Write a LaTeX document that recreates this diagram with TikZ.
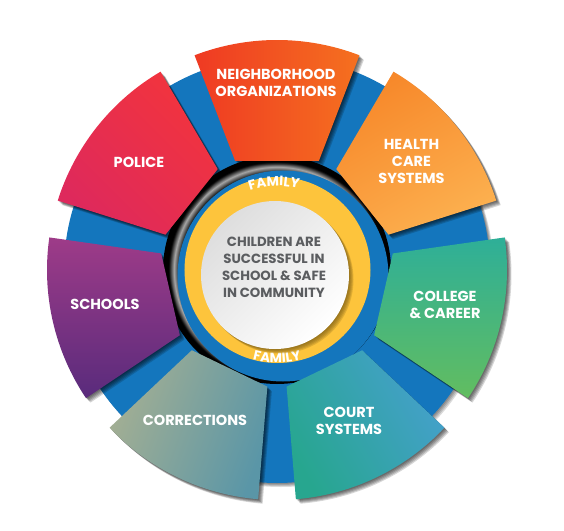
\documentclass[tikz,border=0pt]{standalone}
\usepackage{fontspec}
\setmainfont{Poppins}
\usetikzlibrary{decorations.text}

\definecolor{ringblue}{HTML}{1476BD}
\definecolor{famyellow}{HTML}{FDC43C}
\definecolor{hubgray}{HTML}{5B5D60}
\definecolor{hubshadow}{HTML}{7A5C14}
\definecolor{neighA}{HTML}{EF3A23}
\definecolor{neighB}{HTML}{F5701F}
\definecolor{healthA}{HTML}{F7882A}
\definecolor{healthB}{HTML}{FCB04F}
\definecolor{collegeA}{HTML}{2EAF98}
\definecolor{collegeB}{HTML}{62BD60}
\definecolor{courtA}{HTML}{27A68F}
\definecolor{courtB}{HTML}{45A0CC}
\definecolor{corrA}{HTML}{A4AF93}
\definecolor{corrB}{HTML}{5A96A7}
\definecolor{schoolsA}{HTML}{9E3B88}
\definecolor{schoolsB}{HTML}{592B7C}
\definecolor{policeA}{HTML}{F2343D}
\definecolor{policeB}{HTML}{DE295C}

% dark bevel round the hub (25bp = edge of the filled circle)
\pgfdeclareradialshading{tube}{\pgfpoint{0bp}{0bp}}{color(0bp)=(black); color(21.2bp)=(black); color(22.6bp)=(black!35); color(23.8bp)=(black); color(25bp)=(black); color(50bp)=(black)}

% one wedge of the wheel, centred on angle #1
\newcommand{\segpath}[1]{({#1+21}:117pt) -- ({#1+21}:230pt) arc[start angle={#1+21}, end angle={#1-21}, radius=230pt] -- ({#1-21}:117pt) -- cycle}
\newcommand{\famfont}{\bfseries\fontsize{13.5}{13.5}\selectfont}

\begin{document}
\begin{tikzpicture}[x=1pt, y=1pt,
    seglabel/.style={text=white, font=\bfseries\fontsize{14.5}{17}\selectfont, align=center, inner sep=0pt},
    hublabel/.style={text=hubgray, font=\bfseries\fontsize{13.3}{17}\selectfont, align=center, inner sep=0pt}]

    \useasboundingbox (-277,-260) rectangle (287,270);

    % Disco blu
    \foreach \s in {1,...,4}
        \fill[black, opacity=0.14, shift={(\s,-\s)}] (0,0) circle[radius=213pt];
    \fill[ringblue] (0,0) circle[radius=213pt];

    % Bordo scuro attorno al centro
    \shade[shading=tube] (0,0) circle[radius=114pt];
    \fill[ringblue] (6,-6) circle[radius=105.5pt];

    % Spicchi
    \foreach \a/\ca/\cb/\ang in {90/neighA/neighB/90, 38.57/healthA/healthB/30,
        -12.86/collegeA/collegeB/0, -64.29/courtA/courtB/120, -115.71/corrA/corrB/70,
        -167.14/schoolsA/schoolsB/0, 141.43/policeA/policeB/-45}{
        \foreach \s in {1,...,5}
            \fill[black, opacity=0.16, shift={(\s*0.9,-\s*0.9)}] \segpath{\a};
        \shade[top color=\ca, bottom color=\cb, shading angle=\ang] \segpath{\a};
    }

    % Anello giallo
    \fill[famyellow] (0.5,0) circle[radius=93pt];
    \path[decorate, decoration={text along path, text={|\famfont|FAMILY}, text align=center, text color=white}]
        (152:84pt) arc[start angle=152, end angle=32, radius=84pt];
    \path[decorate, decoration={text along path, text={|\famfont|FAMILY}, text align=center, text color=white}]
        (210:92.5pt) arc[start angle=210, end angle=330, radius=92.5pt];

    % Cerchio centrale
    \foreach \s in {1,...,5}
        \fill[hubshadow, opacity=0.22] ({-2+\s*0.9},{-5-\s*0.9}) circle[radius=74pt];
    \shade[top color=black!13, bottom color=white, shading angle=45] (-2,-5) circle[radius=74pt];
    \node[hublabel] (hub) at (-3,2.3) {CHILDREN ARE\\SUCCESSFUL IN\\SCHOOL \& SAFE\\IN COMMUNITY};

    % Etichette
    \node[seglabel] (neigh) at (-1,187) {NEIGHBORHOOD\\ORGANIZATIONS};
    \node[seglabel] (health) at (134.5,108.5) {HEALTH\\CARE\\SYSTEMS};
    \node[seglabel] (college) at (168,-34.5) {COLLEGE\\\& CAREER};
    \node[seglabel] (court) at (72,-150.5) {COURT\\SYSTEMS};
    \node[seglabel] (corrections) at (-82,-150) {CORRECTIONS};
    \node[seglabel] (schools) at (-172,-34) {SCHOOLS};
    \node[seglabel] (police) at (-138,108) {POLICE};

\end{tikzpicture}
\end{document}
